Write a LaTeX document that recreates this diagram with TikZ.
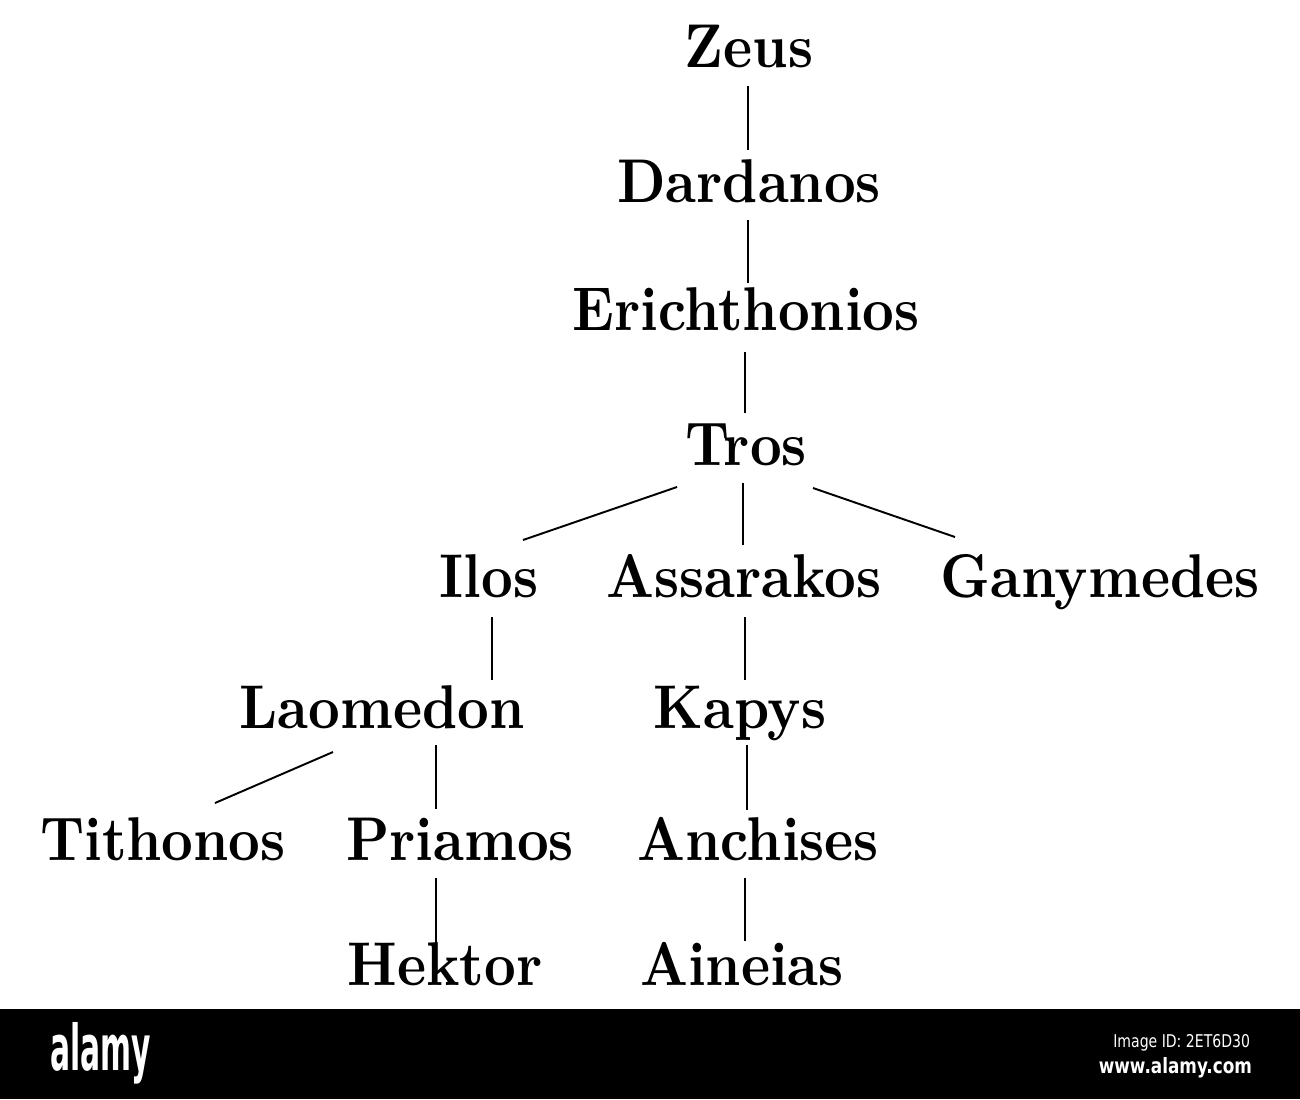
\documentclass[tikz,border=0pt]{standalone}
\usepackage{fontspec}
\usepackage{graphicx}
\usetikzlibrary{calc}
\newfontfamily\wmfont{DejaVu Sans}
\newfontfamily\namefont{lmroman10-bold.otf}
\newcommand{\nm}[1]{\scalebox{1}[1.12]{#1}}
\begin{document}
\begin{tikzpicture}[x=0.02cm,y=-0.02cm,
  person/.style={anchor=base,inner sep=0pt,outer sep=0pt,
    font=\namefont\fontsize{31.4}{36}\selectfont,
    text height=0.8cm,text depth=0.28cm},
  link/.style={line width=1.1pt,draw=black},
  wm/.style={inner sep=0pt,outer sep=0pt,text=white}]
\fill[white] (0,0) rectangle (1300,1099);
\fill[black] (0,1009) rectangle (1300,1099);

\node[person] (zeus) at (749,67) {\nm{Zeus}};
\node[person] (dardanos) at (749,202) {\nm{Dardanos}};
\node[person] (erich) at (746,330) {\nm{Erichthonios}};
\node[person] (tros) at (746,465) {\nm{Tros}};
\node[person] (ilos) at (489,597) {\nm{Ilos}};
\node[person] (assarakos) at (744,597) {\nm{Assarakos}};
\node[person] (ganymedes) at (1100,597) {\nm{Ganymedes}};
\node[person] (laomedon) at (382,728) {\nm{Laomedon}};
\node[person] (kapys) at (740,728) {\nm{Kapys}};
\node[person] (tithonos) at (163,860) {\nm{Tithonos}};
\node[person] (priamos) at (460,860) {\nm{Priamos}};
\node[person] (anchises) at (758,860) {\nm{Anchises}};
\node[person] (hektor) at (445,985) {\nm{Hektor}};
\node[person] (aineias) at (742,985) {\nm{Aineias}};

\draw[link] ($(zeus.south)+(-1,5)$) -- ($(zeus.south |- dardanos.north)+(-1,-12)$);
\draw[link] ($(dardanos.south)+(-1,4)$) -- ($(dardanos.south |- erich.north)+(-1,-7)$);
\draw[link] ($(tros.north |- erich.south)+(-1,8)$) -- ($(tros.north)+(-1,-12)$);
\draw[link] ($(tros.south)+(-69,8)$) -- ($(ilos.north)+(34,-17)$);
\draw[link] ($(tros.south)+(-3,4)$) -- ($(tros.south |- assarakos.north)+(-3,-12)$);
\draw[link] ($(tros.south)+(67,9)$) -- ($(ganymedes.north)+(-145,-20)$);
\draw[link] ($(ilos.south)+(3,6)$) -- ($(ilos.south |- laomedon.north)+(3,-8)$);
\draw[link] ($(assarakos.south)+(1,6)$) -- ($(assarakos.south |- kapys.north)+(1,-8)$);
\draw[link] ($(laomedon.south)+(-49,10)$) -- ($(tithonos.north)+(52,-17)$);
\draw[link] ($(priamos.north |- laomedon.south)+(-24,3)$) -- ($(priamos.north)+(-24,-11)$);
\draw[link] ($(kapys.south)+(7,3)$) -- ($(kapys.south |- anchises.north)+(7,-10)$);
\draw[link] ($(hektor.north |- priamos.south)+(-9,4)$) -- ($(hektor.north)+(-9,0)$);
\draw[link] ($(aineias.north |- anchises.south)+(3,4)$) -- ($(aineias.north)+(3,-4)$);

\node[wm,anchor=base west,font=\wmfont\bfseries\fontsize{36}{36}\selectfont] (alamy) at (50,1070) {\scalebox{0.47}[1]{alamy}};
\node[wm,anchor=base east,font=\wmfont\fontsize{10}{10}\selectfont] (imgid) at (1250,1047) {\scalebox{0.8}[1]{Image ID: 2ET6D30}};
\node[wm,anchor=base east,font=\wmfont\bfseries\fontsize{12}{12}\selectfont] (www) at (1252,1073) {\scalebox{0.8}[1]{www.alamy.com}};
\end{tikzpicture}
\end{document}
